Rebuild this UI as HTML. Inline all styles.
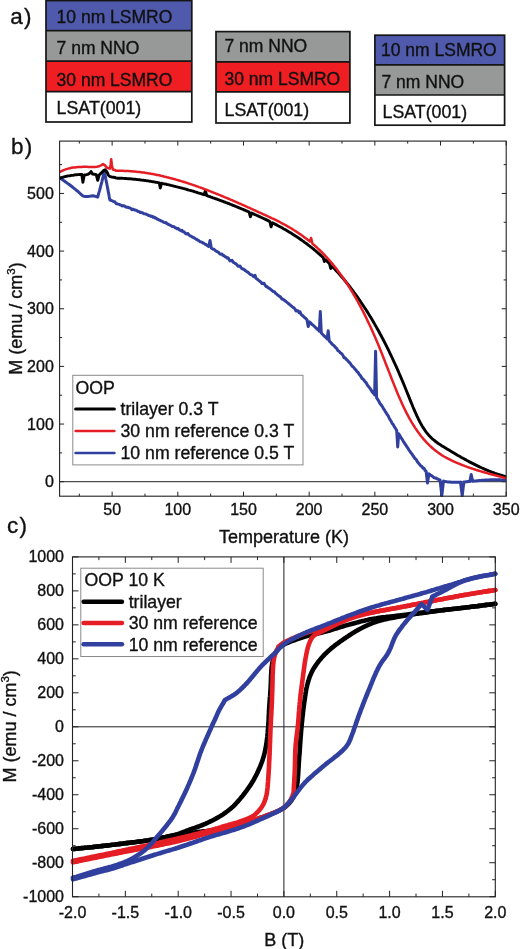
<!DOCTYPE html>
<html><head><meta charset="utf-8"><title>Figure</title>
<style>
html,body{margin:0;padding:0;background:#fff;}
body{width:520px;height:949px;overflow:hidden;}
svg{display:block;font-family:"Liberation Sans", Arial, Helvetica, sans-serif;}
</style></head>
<body>
<svg width="520" height="949" viewBox="0 0 520 949">
<rect width="520" height="949" fill="#fff"/>
<text x="10.3" y="23.6" font-size="22.5" fill="#111" stroke="#111" stroke-width="0.35">a<tspan dx="1.2">)</tspan></text>
<rect x="46" y="0.6" width="145.8" height="30.1" fill="#505aac"/>
<rect x="46" y="30.7" width="145.8" height="30.5" fill="#979998"/>
<rect x="46" y="61.2" width="145.8" height="30.5" fill="#ef1e22"/>
<rect x="46" y="91.7" width="145.8" height="30.3" fill="#fff"/>
<line x1="46" y1="30.7" x2="191.8" y2="30.7" stroke="#151515" stroke-width="1.7"/>
<line x1="46" y1="61.2" x2="191.8" y2="61.2" stroke="#151515" stroke-width="1.7"/>
<line x1="46" y1="91.7" x2="191.8" y2="91.7" stroke="#151515" stroke-width="1.7"/>
<rect x="46" y="0.6" width="145.8" height="121.4" fill="none" stroke="#151515" stroke-width="1.7"/>
<text x="56.6" y="23.1" font-size="17.5" fill="#111" stroke="#111" stroke-width="0.35">10 nm LSMRO</text>
<text x="56.6" y="54.4" font-size="17.5" fill="#111" stroke="#111" stroke-width="0.35">7 nm NNO</text>
<text x="56.6" y="85.8" font-size="17.5" fill="#111" stroke="#111" stroke-width="0.35">30 nm LSMRO</text>
<text x="56.6" y="114.2" font-size="17.8" fill="#111" stroke="#111" stroke-width="0.35">LSAT(001)</text>
<rect x="216" y="31.6" width="133.9" height="30.3" fill="#979998"/>
<rect x="216" y="61.9" width="133.9" height="29.9" fill="#ef1e22"/>
<rect x="216" y="91.8" width="133.9" height="31.2" fill="#fff"/>
<line x1="216" y1="61.9" x2="349.9" y2="61.9" stroke="#151515" stroke-width="1.7"/>
<line x1="216" y1="91.8" x2="349.9" y2="91.8" stroke="#151515" stroke-width="1.7"/>
<rect x="216" y="31.6" width="133.9" height="91.4" fill="none" stroke="#151515" stroke-width="1.7"/>
<text x="224.5" y="52.3" font-size="17.5" fill="#111" stroke="#111" stroke-width="0.35">7 nm NNO</text>
<text x="224.5" y="85.1" font-size="17.5" fill="#111" stroke="#111" stroke-width="0.35">30 nm LSMRO</text>
<text x="224.5" y="116.2" font-size="17.8" fill="#111" stroke="#111" stroke-width="0.35">LSAT(001)</text>
<rect x="374.9" y="35.2" width="129.7" height="29.6" fill="#505aac"/>
<rect x="374.9" y="64.8" width="129.7" height="30.2" fill="#979998"/>
<rect x="374.9" y="95" width="129.7" height="30.2" fill="#fff"/>
<line x1="374.9" y1="64.8" x2="504.6" y2="64.8" stroke="#151515" stroke-width="1.7"/>
<line x1="374.9" y1="95" x2="504.6" y2="95" stroke="#151515" stroke-width="1.7"/>
<rect x="374.9" y="35.2" width="129.7" height="90" fill="none" stroke="#151515" stroke-width="1.7"/>
<text x="381" y="55.5" font-size="17.5" fill="#111" stroke="#111" stroke-width="0.35">10 nm LSMRO</text>
<text x="381.5" y="88.1" font-size="17.5" fill="#111" stroke="#111" stroke-width="0.35">7 nm NNO</text>
<text x="382.5" y="117.5" font-size="17.8" fill="#111" stroke="#111" stroke-width="0.35">LSAT(001)</text>
<text x="11" y="153.8" font-size="22.5" fill="#111" stroke="#111" stroke-width="0.35">b<tspan dx="1.2">)</tspan></text>
<line x1="79.3" y1="496.2" x2="79.3" y2="493.7" stroke="#222" stroke-width="1"/>
<line x1="79.3" y1="141.1" x2="79.3" y2="143.6" stroke="#222" stroke-width="1"/>
<line x1="112.14" y1="496.2" x2="112.14" y2="491.7" stroke="#222" stroke-width="1"/>
<line x1="112.14" y1="141.1" x2="112.14" y2="145.6" stroke="#222" stroke-width="1"/>
<text x="112.14" y="515" font-size="16" text-anchor="middle" fill="#111" stroke="#111" stroke-width="0.35">50</text>
<line x1="144.98" y1="496.2" x2="144.98" y2="493.7" stroke="#222" stroke-width="1"/>
<line x1="144.98" y1="141.1" x2="144.98" y2="143.6" stroke="#222" stroke-width="1"/>
<line x1="177.82" y1="496.2" x2="177.82" y2="491.7" stroke="#222" stroke-width="1"/>
<line x1="177.82" y1="141.1" x2="177.82" y2="145.6" stroke="#222" stroke-width="1"/>
<text x="177.82" y="515" font-size="16" text-anchor="middle" fill="#111" stroke="#111" stroke-width="0.35">100</text>
<line x1="210.66" y1="496.2" x2="210.66" y2="493.7" stroke="#222" stroke-width="1"/>
<line x1="210.66" y1="141.1" x2="210.66" y2="143.6" stroke="#222" stroke-width="1"/>
<line x1="243.49" y1="496.2" x2="243.49" y2="491.7" stroke="#222" stroke-width="1"/>
<line x1="243.49" y1="141.1" x2="243.49" y2="145.6" stroke="#222" stroke-width="1"/>
<text x="243.49" y="515" font-size="16" text-anchor="middle" fill="#111" stroke="#111" stroke-width="0.35">150</text>
<line x1="276.33" y1="496.2" x2="276.33" y2="493.7" stroke="#222" stroke-width="1"/>
<line x1="276.33" y1="141.1" x2="276.33" y2="143.6" stroke="#222" stroke-width="1"/>
<line x1="309.17" y1="496.2" x2="309.17" y2="491.7" stroke="#222" stroke-width="1"/>
<line x1="309.17" y1="141.1" x2="309.17" y2="145.6" stroke="#222" stroke-width="1"/>
<text x="309.17" y="515" font-size="16" text-anchor="middle" fill="#111" stroke="#111" stroke-width="0.35">200</text>
<line x1="342.01" y1="496.2" x2="342.01" y2="493.7" stroke="#222" stroke-width="1"/>
<line x1="342.01" y1="141.1" x2="342.01" y2="143.6" stroke="#222" stroke-width="1"/>
<line x1="374.85" y1="496.2" x2="374.85" y2="491.7" stroke="#222" stroke-width="1"/>
<line x1="374.85" y1="141.1" x2="374.85" y2="145.6" stroke="#222" stroke-width="1"/>
<text x="374.85" y="515" font-size="16" text-anchor="middle" fill="#111" stroke="#111" stroke-width="0.35">250</text>
<line x1="407.69" y1="496.2" x2="407.69" y2="493.7" stroke="#222" stroke-width="1"/>
<line x1="407.69" y1="141.1" x2="407.69" y2="143.6" stroke="#222" stroke-width="1"/>
<line x1="440.52" y1="496.2" x2="440.52" y2="491.7" stroke="#222" stroke-width="1"/>
<line x1="440.52" y1="141.1" x2="440.52" y2="145.6" stroke="#222" stroke-width="1"/>
<text x="440.52" y="515" font-size="16" text-anchor="middle" fill="#111" stroke="#111" stroke-width="0.35">300</text>
<line x1="473.36" y1="496.2" x2="473.36" y2="493.7" stroke="#222" stroke-width="1"/>
<line x1="473.36" y1="141.1" x2="473.36" y2="143.6" stroke="#222" stroke-width="1"/>
<line x1="506.2" y1="496.2" x2="506.2" y2="491.7" stroke="#222" stroke-width="1"/>
<line x1="506.2" y1="141.1" x2="506.2" y2="145.6" stroke="#222" stroke-width="1"/>
<text x="506.2" y="515" font-size="16" text-anchor="middle" fill="#111" stroke="#111" stroke-width="0.35">350</text>
<line x1="59.6" y1="481.7" x2="64.1" y2="481.7" stroke="#222" stroke-width="1"/>
<line x1="506.2" y1="481.7" x2="501.7" y2="481.7" stroke="#222" stroke-width="1"/>
<text x="53.8" y="487.4" font-size="16" text-anchor="end" fill="#111" stroke="#111" stroke-width="0.35">0</text>
<line x1="59.6" y1="452.88" x2="62.1" y2="452.88" stroke="#222" stroke-width="1"/>
<line x1="506.2" y1="452.88" x2="503.7" y2="452.88" stroke="#222" stroke-width="1"/>
<line x1="59.6" y1="424.05" x2="64.1" y2="424.05" stroke="#222" stroke-width="1"/>
<line x1="506.2" y1="424.05" x2="501.7" y2="424.05" stroke="#222" stroke-width="1"/>
<text x="53.8" y="429.75" font-size="16" text-anchor="end" fill="#111" stroke="#111" stroke-width="0.35">100</text>
<line x1="59.6" y1="395.22" x2="62.1" y2="395.22" stroke="#222" stroke-width="1"/>
<line x1="506.2" y1="395.22" x2="503.7" y2="395.22" stroke="#222" stroke-width="1"/>
<line x1="59.6" y1="366.4" x2="64.1" y2="366.4" stroke="#222" stroke-width="1"/>
<line x1="506.2" y1="366.4" x2="501.7" y2="366.4" stroke="#222" stroke-width="1"/>
<text x="53.8" y="372.1" font-size="16" text-anchor="end" fill="#111" stroke="#111" stroke-width="0.35">200</text>
<line x1="59.6" y1="337.57" x2="62.1" y2="337.57" stroke="#222" stroke-width="1"/>
<line x1="506.2" y1="337.57" x2="503.7" y2="337.57" stroke="#222" stroke-width="1"/>
<line x1="59.6" y1="308.75" x2="64.1" y2="308.75" stroke="#222" stroke-width="1"/>
<line x1="506.2" y1="308.75" x2="501.7" y2="308.75" stroke="#222" stroke-width="1"/>
<text x="53.8" y="314.45" font-size="16" text-anchor="end" fill="#111" stroke="#111" stroke-width="0.35">300</text>
<line x1="59.6" y1="279.92" x2="62.1" y2="279.92" stroke="#222" stroke-width="1"/>
<line x1="506.2" y1="279.92" x2="503.7" y2="279.92" stroke="#222" stroke-width="1"/>
<line x1="59.6" y1="251.1" x2="64.1" y2="251.1" stroke="#222" stroke-width="1"/>
<line x1="506.2" y1="251.1" x2="501.7" y2="251.1" stroke="#222" stroke-width="1"/>
<text x="53.8" y="256.8" font-size="16" text-anchor="end" fill="#111" stroke="#111" stroke-width="0.35">400</text>
<line x1="59.6" y1="222.27" x2="62.1" y2="222.27" stroke="#222" stroke-width="1"/>
<line x1="506.2" y1="222.27" x2="503.7" y2="222.27" stroke="#222" stroke-width="1"/>
<line x1="59.6" y1="193.45" x2="64.1" y2="193.45" stroke="#222" stroke-width="1"/>
<line x1="506.2" y1="193.45" x2="501.7" y2="193.45" stroke="#222" stroke-width="1"/>
<text x="53.8" y="199.15" font-size="16" text-anchor="end" fill="#111" stroke="#111" stroke-width="0.35">500</text>
<line x1="59.6" y1="164.62" x2="62.1" y2="164.62" stroke="#222" stroke-width="1"/>
<line x1="506.2" y1="164.62" x2="503.7" y2="164.62" stroke="#222" stroke-width="1"/>
<line x1="59.6" y1="481.7" x2="506.2" y2="481.7" stroke="#222" stroke-width="1"/>
<text x="284" y="543" font-size="18" text-anchor="middle" fill="#111" stroke="#111" stroke-width="0.35">Temperature (K)</text>
<text transform="translate(22,318.5) rotate(-90)" font-size="18" text-anchor="middle" fill="#111" stroke="#111" stroke-width="0.35">M (emu / cm<tspan dy="-7" font-size="11.5">3</tspan><tspan dy="7">)</tspan></text>
<path d="M59.6 177.6L60.9 178.6L62.3 179.5L63.6 180.5L65.0 181.5L66.3 182.4L67.6 183.4L68.9 184.3L70.2 185.3L71.5 186.3L72.8 187.3L74.1 188.4L75.4 189.4L76.7 190.5L78.0 191.5L79.4 192.8L80.8 194.2L82.2 195.4L83.6 196.2L85.8 196.5L88.0 196.4L89.7 196.2L91.3 195.9L93.0 195.8L94.6 196.1L96.1 196.6L97.7 197.1L98.1 195.6L98.5 194.1L98.9 192.6L99.4 191.1L99.8 189.6L100.2 188.1L100.6 186.5L101.0 185.0L101.4 183.5L101.8 182.1L102.1 180.6L102.5 179.1L102.9 177.5L103.3 176.0L103.6 174.5L104.0 173.0L104.4 171.5L104.7 173.0L105.0 174.5L105.3 176.0L105.6 177.5L105.8 179.0L106.1 180.5L106.4 182.0L106.7 183.5L107.0 185.0L107.3 186.5L107.6 187.9L107.8 189.4L108.1 190.9L108.4 192.4L108.7 193.8L109.0 195.3L109.2 196.8L109.5 198.3L109.8 199.8L111.5 200.5L113.3 201.3L115.0 202.0L116.0 203.5L117.0 203.8L118.0 204.1L119.0 204.4L120.0 204.8L121.0 205.1L122.0 206.0L123.0 205.7L124.0 205.7L125.0 206.4L126.0 207.2L127.0 207.1L128.0 207.3L129.0 207.8L130.0 208.0L131.0 208.5L132.0 209.7L133.0 209.2L134.0 209.7L135.0 210.0L136.0 210.3L137.0 210.7L138.0 211.4L139.0 211.5L140.0 212.4L141.0 212.3L142.0 212.7L143.0 213.1L144.0 213.7L145.0 213.9L146.0 213.9L147.0 214.7L148.0 215.0L149.0 215.6L150.0 215.8L151.0 216.4L152.0 216.2L153.0 217.3L154.0 217.0L155.0 218.1L156.0 217.9L157.0 219.0L158.0 219.4L159.0 219.9L160.0 220.3L161.0 220.9L162.0 221.2L163.0 221.8L164.0 222.3L165.0 222.7L166.0 222.6L167.0 223.7L168.0 224.1L169.0 224.7L170.0 225.2L171.0 225.6L172.0 226.5L173.0 226.6L174.0 226.7L175.0 227.6L176.0 228.0L177.0 228.7L178.0 228.3L179.0 229.7L180.0 230.0L181.0 230.7L182.0 230.3L183.0 231.8L184.0 231.7L185.0 232.9L186.0 233.9L187.0 233.9L188.0 233.5L189.0 235.0L190.0 235.9L191.0 236.1L192.0 236.8L193.0 237.3L194.0 237.7L195.0 238.4L196.0 239.2L197.0 239.5L198.0 240.3L199.0 240.7L200.0 241.7L201.0 241.9L202.0 242.3L203.0 243.0L204.0 243.4L205.0 244.2L206.0 244.5L207.0 245.4L208.0 246.0L208.7 246.5L210.0 240.5L211.3 248.0L212.0 248.5L213.0 249.1L214.0 249.3L215.0 250.3L216.0 251.0L217.0 251.6L218.0 251.9L219.0 252.9L220.0 254.0L221.0 254.2L222.0 254.0L223.0 255.5L224.0 255.6L225.0 256.8L226.0 257.0L227.0 258.1L228.0 257.8L229.0 259.4L230.0 260.9L231.0 260.7L232.0 260.3L233.0 262.1L234.0 262.6L235.0 263.4L236.0 263.9L237.0 264.8L238.0 266.2L239.0 266.2L240.0 266.0L241.0 267.6L242.0 268.8L243.0 269.0L244.0 269.4L245.0 270.4L246.0 271.0L247.0 271.8L248.0 272.2L249.0 273.3L250.0 274.3L251.0 274.7L252.0 274.9L253.0 276.2L253.9 276.8L255.0 275.3L256.1 278.4L257.0 279.1L258.0 279.8L259.0 280.6L260.0 281.5L261.0 282.1L262.0 283.6L263.0 283.6L264.0 283.2L265.0 285.1L266.0 286.5L267.0 286.6L268.0 287.8L269.0 288.1L270.0 288.7L271.0 289.7L272.0 290.5L273.0 291.2L273.4 291.6L274.5 291.8L275.6 293.3L276.0 293.6L277.0 294.4L278.0 295.3L279.0 296.0L280.0 296.6L281.0 297.6L282.0 299.1L283.0 299.2L284.0 300.1L285.0 300.8L286.0 301.5L287.0 302.4L288.0 303.2L289.0 304.1L290.0 304.8L291.0 305.7L292.0 306.5L293.0 307.4L294.0 307.9L295.0 309.1L296.0 310.9L297.0 310.8L298.0 310.8L299.0 312.6L300.0 311.8L301.0 314.3L302.0 315.1L303.0 316.1L304.0 316.9L305.0 317.8L306.0 318.7L306.9 319.5L308.2 326.5L309.5 321.9L310.0 322.3L311.0 323.3L312.0 324.4L313.0 325.1L314.0 326.0L315.0 327.0L316.0 327.9L317.0 328.9L318.0 329.8L319.0 330.8L319.3 331.1L320.3 311.5L321.3 333.0L322.0 333.7L323.0 334.7L324.0 335.8L325.0 336.7L326.0 337.6L327.0 338.7L327.2 338.9L328.2 330.8L329.2 340.9L330.0 341.7L331.0 342.7L332.0 344.2L333.0 344.8L334.0 345.6L335.0 346.9L336.0 347.8L337.0 349.0L338.0 350.9L339.0 351.1L340.0 352.5L341.0 353.3L342.0 354.0L343.0 355.5L344.0 357.7L345.0 357.7L346.0 359.2L347.0 360.0L348.0 360.9L349.0 362.3L350.0 362.9L351.0 364.6L352.0 365.9L353.0 366.9L354.0 367.7L355.0 369.3L356.0 370.0L357.0 371.7L358.0 372.3L359.0 374.1L360.0 375.1L361.0 376.6L362.0 378.4L363.0 379.1L364.0 380.2L365.0 381.7L366.0 382.4L367.0 384.4L368.0 386.0L369.0 387.0L370.0 388.4L371.0 389.8L372.0 391.6L373.0 392.6L374.0 394.0L374.6 394.9L375.6 351.2L376.6 397.8L377.0 398.4L378.0 399.9L379.0 401.5L380.0 403.6L381.0 404.6L382.0 406.1L383.0 407.8L384.0 409.3L385.0 411.0L386.0 412.6L387.0 414.3L388.0 415.4L389.0 417.6L390.0 419.6L391.0 421.0L392.0 423.2L393.0 424.3L394.0 426.1L395.0 427.7L396.0 429.3L396.7 430.5L397.7 446.9L398.7 433.8L399.0 434.3L400.0 435.9L401.0 437.6L402.0 439.1L403.0 440.8L404.0 442.3L405.0 444.0L406.0 445.2L407.0 447.1L408.0 448.2L409.0 450.1L410.0 451.4L411.0 453.0L412.0 454.1L413.0 455.8L414.0 457.0L415.0 458.6L416.0 459.2L417.0 461.2L418.0 462.6L419.0 463.7L420.0 464.9L421.0 466.0L422.0 466.6L423.0 468.2L424.0 468.2L425.0 470.3L426.0 471.2L426.1 471.3L427.5 483.0L428.9 473.8L429.0 473.8L430.0 474.6L431.0 475.4L432.0 476.0L433.0 476.7L434.0 477.8L435.0 477.9L436.0 478.0L437.0 478.8L438.0 479.1L439.0 479.7L440.0 480.1L440.1 480.1L441.8 495.5L443.5 481.1L444.0 481.2L445.0 481.4L446.0 481.6L447.0 481.8L448.0 481.9L449.0 482.0L450.0 482.1L451.0 482.2L452.0 482.2L453.0 482.3L454.0 482.3L455.0 482.3L456.0 482.3L457.0 482.3L458.0 482.3L459.0 482.2L460.0 482.2L460.5 482.1L462.2 495.5L463.9 481.9L464.0 481.9L465.0 481.9L466.0 481.8L467.0 481.7L468.0 481.6L469.0 481.5L469.8 481.5L471.2 474.5L472.6 481.2L473.0 481.2L474.0 481.1L475.0 481.0L476.0 480.9L477.0 480.8L478.0 480.7L479.0 480.6L480.0 480.5L481.0 480.4L482.0 480.3L483.0 480.3L484.0 480.2L485.0 480.1L486.0 480.1L487.0 480.0L488.0 479.9L489.0 479.9L490.0 479.8L491.0 479.8L492.0 479.8L493.0 479.7L494.0 479.7L495.0 479.7L496.0 479.7L497.0 479.7L498.0 479.8L499.0 479.8L500.0 479.8L501.0 479.9L502.0 479.9L503.0 480.0L504.0 480.1L505.0 480.2L506.0 480.3" fill="none" stroke="#31409f" stroke-width="3.0" stroke-linejoin="round"/>
<path d="M59.6 178.3L61.4 177.7L63.2 177.1L65.0 176.6L66.6 176.2L68.2 175.9L69.9 175.7L71.5 175.4L73.2 175.2L74.9 174.9L76.5 174.7L78.0 174.6L80.0 174.5L81.8 174.5L82.0 176.1L82.2 177.6L82.5 179.2L82.7 180.7L82.9 182.3L83.2 180.5L83.6 178.7L83.9 176.8L84.2 175.0L86.2 174.7L88.0 174.3L90.0 173.0L91.0 171.5L92.5 174.0L94.3 174.3L96.2 174.6L96.7 176.5L97.2 178.4L97.7 180.3L98.2 178.5L98.7 176.8L99.2 175.0L100.6 173.6L102.0 172.2L103.6 170.6L105.1 169.8L107.0 172.0L107.6 173.3L108.2 174.8L109.1 176.0L110.3 176.6L111.8 177.0L113.4 177.2L115.0 177.5L116.0 178.1L117.0 178.1L118.0 178.2L119.0 178.2L120.0 178.2L121.0 178.3L122.0 178.3L123.0 178.4L124.0 178.4L125.0 178.5L126.0 178.5L127.0 178.6L128.0 178.7L129.0 178.8L130.0 178.8L131.0 178.9L132.0 179.0L133.0 179.1L134.0 179.2L135.0 179.3L136.0 179.4L137.0 179.5L138.0 179.6L139.0 179.7L140.0 179.8L141.0 180.0L142.0 180.1L143.0 180.2L144.0 180.4L145.0 180.5L146.0 180.6L147.0 180.8L148.0 180.9L149.0 181.1L150.0 181.2L151.0 181.4L152.0 181.6L153.0 181.7L154.0 181.9L155.0 182.1L156.0 182.3L157.0 182.4L158.0 182.6L159.0 182.8L159.2 182.9L160.3 188.0L161.4 183.3L162.0 183.4L163.0 183.6L164.0 183.8L165.0 184.0L166.0 184.2L167.0 184.5L168.0 184.7L169.0 184.9L170.0 185.1L171.0 185.4L172.0 185.6L173.0 185.8L174.0 186.1L175.0 186.3L176.0 186.6L177.0 186.8L178.0 187.1L179.0 187.3L180.0 187.6L181.0 187.8L182.0 188.1L183.0 188.4L184.0 188.6L185.0 188.9L186.0 189.2L187.0 189.5L188.0 189.8L189.0 190.1L190.0 190.3L191.0 190.6L192.0 190.9L193.0 191.2L194.0 191.5L195.0 191.8L196.0 192.1L197.0 192.4L198.0 192.8L199.0 193.1L200.0 193.4L201.0 193.7L202.0 194.0L203.0 194.4L204.0 194.7L204.1 194.7L205.4 190.5L206.7 195.6L207.0 195.7L208.0 196.0L209.0 196.4L210.0 196.7L211.0 197.1L212.0 197.4L213.0 197.8L214.0 198.1L215.0 198.5L216.0 198.8L217.0 199.2L218.0 199.6L219.0 199.9L220.0 200.3L221.0 200.7L222.0 201.0L223.0 201.4L224.0 201.8L225.0 202.2L226.0 202.6L227.0 202.9L228.0 203.3L229.0 203.7L230.0 204.1L231.0 204.5L232.0 204.9L233.0 205.3L234.0 205.7L235.0 206.1L236.0 206.5L237.0 206.9L238.0 207.3L239.0 207.7L240.0 208.2L241.0 208.6L242.0 209.0L243.0 209.4L244.0 209.8L245.0 210.2L246.0 210.7L247.0 211.1L248.0 211.5L249.0 212.0L249.1 212.0L250.4 216.8L251.7 213.1L252.0 213.2L253.0 213.7L254.0 214.1L255.0 214.6L256.0 215.0L257.0 215.5L258.0 215.9L259.0 216.4L260.0 216.8L261.0 217.3L262.0 217.7L263.0 218.2L264.0 218.7L265.0 219.1L266.0 219.6L267.0 220.1L268.0 220.6L269.0 221.1L269.8 221.5L271.1 226.8L272.4 222.8L273.0 223.1L274.0 223.6L275.0 224.1L276.0 224.6L277.0 225.1L278.0 225.7L279.0 226.2L280.0 226.7L281.0 227.3L282.0 227.8L283.0 228.4L284.0 229.0L285.0 229.5L286.0 230.1L287.0 230.7L288.0 231.3L289.0 231.9L290.0 232.5L291.0 233.1L292.0 233.7L293.0 234.4L294.0 235.0L295.0 235.7L296.0 236.3L297.0 237.0L298.0 237.6L299.0 238.3L300.0 239.0L301.0 239.7L302.0 240.4L303.0 241.1L304.0 241.8L305.0 242.6L306.0 243.3L307.0 244.0L308.0 244.8L309.0 245.6L310.0 246.3L311.0 247.1L312.0 247.9L313.0 248.7L314.0 249.5L315.0 250.4L316.0 251.2L317.0 252.1L318.0 252.9L319.0 253.8L320.0 254.7L321.0 255.6L322.0 256.5L323.0 257.4L323.2 257.6L324.4 261.5L325.6 259.8L326.0 260.2L327.0 261.2L328.0 262.1L329.0 263.1L329.5 263.6L330.7 268.5L331.9 266.1L332.0 266.2L333.0 267.2L334.0 268.3L335.0 269.3L336.0 270.4L337.0 271.5L338.0 272.6L339.0 273.7L340.0 274.9L341.0 276.0L342.0 277.2L343.0 278.3L344.0 279.5L345.0 280.7L346.0 282.0L347.0 283.2L348.0 284.4L349.0 285.7L350.0 287.0L351.0 288.3L352.0 289.6L353.0 290.9L354.0 292.3L355.0 293.6L356.0 295.0L357.0 296.4L358.0 297.8L359.0 299.3L360.0 300.7L361.0 302.2L362.0 303.7L363.0 305.2L364.0 306.7L365.0 308.2L366.0 309.8L367.0 311.4L368.0 312.9L369.0 314.6L370.0 316.2L371.0 317.8L372.0 319.5L373.0 321.2L374.0 322.9L375.0 324.7L376.0 326.4L377.0 328.2L378.0 330.0L379.0 331.8L380.0 333.7L381.0 335.5L382.0 337.4L383.0 339.3L384.0 341.2L385.0 343.2L386.0 345.2L387.0 347.2L388.0 349.2L389.0 351.2L390.0 353.3L391.0 355.4L392.0 357.5L393.0 359.6L394.0 361.8L395.0 364.0L396.0 366.2L397.0 368.4L398.0 370.7L399.0 373.0L400.0 375.3L401.0 377.6L402.0 380.0L403.0 382.4L404.0 384.8L405.0 387.2L406.0 389.7L407.0 392.2L408.0 394.6L409.0 397.1L410.0 399.6L411.0 402.1L412.0 404.5L413.0 407.0L414.0 409.3L415.0 411.6L416.0 413.9L417.0 416.1L418.0 418.2L419.0 420.3L420.0 422.2L421.0 424.0L422.0 425.8L423.0 427.4L424.0 428.9L425.0 430.4L426.0 431.8L427.0 433.1L428.0 434.3L429.0 435.4L430.0 436.5L431.0 437.5L432.0 438.5L433.0 439.4L434.0 440.2L435.0 441.0L436.0 441.8L437.0 442.5L438.0 443.3L439.0 443.9L440.0 444.6L441.0 445.2L442.0 445.9L443.0 446.5L444.0 447.1L445.0 447.7L446.0 448.3L447.0 448.9L448.0 449.5L449.0 450.1L450.0 450.7L451.0 451.3L452.0 451.9L453.0 452.5L454.0 453.1L455.0 453.7L456.0 454.3L457.0 454.9L458.0 455.5L459.0 456.0L460.0 456.6L461.0 457.2L462.0 457.7L463.0 458.3L464.0 458.8L465.0 459.4L466.0 459.9L467.0 460.5L468.0 461.0L469.0 461.6L470.0 462.1L471.0 462.6L472.0 463.1L473.0 463.6L474.0 464.1L475.0 464.6L476.0 465.1L477.0 465.6L478.0 466.1L479.0 466.6L480.0 467.1L481.0 467.5L482.0 468.0L483.0 468.4L484.0 468.9L485.0 469.3L486.0 469.7L487.0 470.2L488.0 470.6L489.0 471.0L490.0 471.4L491.0 471.8L492.0 472.2L493.0 472.5L494.0 472.9L495.0 473.3L496.0 473.6L497.0 474.0L498.0 474.3L499.0 474.6L500.0 474.9L501.0 475.2L502.0 475.5L503.0 475.8L504.0 476.1L505.0 476.4L506.0 476.6" fill="none" stroke="#000" stroke-width="2.9" stroke-linejoin="round"/>
<path d="M59.6 172.0L61.4 171.2L63.2 170.3L65.0 169.6L66.6 169.1L68.2 168.6L69.9 168.2L71.5 167.8L73.1 167.5L74.7 167.4L76.4 167.2L78.0 167.1L79.7 167.0L81.5 166.9L83.2 166.8L85.0 166.8L86.8 166.8L88.5 166.9L90.3 166.9L92.0 166.9L93.6 166.9L95.2 166.9L96.7 166.8L98.0 166.6L99.6 166.0L101.0 165.3L103.1 164.1L105.0 165.4L106.0 166.6L107.1 167.8L109.8 168.6L110.2 166.8L110.6 165.0L110.8 163.1L111.0 161.1L111.2 159.2L111.4 161.1L111.7 163.1L111.9 165.0L112.2 166.5L112.5 168.0L112.8 169.5L115.0 170.0L116.0 170.8L117.0 170.8L118.0 170.8L119.0 170.8L120.0 170.8L121.0 170.8L122.0 170.8L123.0 170.8L124.0 170.9L125.0 170.9L126.0 170.9L127.0 171.0L128.0 171.0L129.0 171.1L130.0 171.2L131.0 171.2L132.0 171.3L133.0 171.4L134.0 171.5L135.0 171.6L136.0 171.7L137.0 171.8L138.0 171.9L139.0 172.0L140.0 172.1L141.0 172.2L142.0 172.4L143.0 172.5L144.0 172.6L145.0 172.8L146.0 172.9L147.0 173.1L148.0 173.2L149.0 173.4L150.0 173.6L151.0 173.8L152.0 173.9L153.0 174.1L154.0 174.3L155.0 174.5L156.0 174.7L157.0 174.9L158.0 175.1L159.0 175.3L160.0 175.5L161.0 175.8L162.0 176.0L163.0 176.2L164.0 176.5L165.0 176.7L166.0 176.9L167.0 177.2L168.0 177.4L169.0 177.7L170.0 178.0L171.0 178.2L172.0 178.5L173.0 178.8L174.0 179.0L175.0 179.3L176.0 179.6L177.0 179.9L178.0 180.2L179.0 180.5L180.0 180.8L181.0 181.1L182.0 181.4L183.0 181.7L184.0 182.0L185.0 182.3L186.0 182.6L187.0 182.9L188.0 183.3L189.0 183.6L190.0 183.9L191.0 184.3L192.0 184.6L193.0 184.9L194.0 185.3L195.0 185.6L196.0 186.0L197.0 186.3L198.0 186.7L199.0 187.1L200.0 187.4L201.0 187.8L202.0 188.1L203.0 188.5L204.0 188.9L205.0 189.3L206.0 189.6L207.0 190.0L208.0 190.4L209.0 190.8L210.0 191.2L211.0 191.6L212.0 192.0L213.0 192.4L214.0 192.8L215.0 193.2L216.0 193.6L217.0 194.0L218.0 194.4L219.0 194.8L220.0 195.2L221.0 195.6L222.0 196.0L223.0 196.4L224.0 196.8L225.0 197.3L226.0 197.7L227.0 198.1L228.0 198.5L229.0 198.9L230.0 199.4L231.0 199.8L232.0 200.2L233.0 200.7L234.0 201.1L235.0 201.5L236.0 202.0L237.0 202.4L238.0 202.8L239.0 203.3L240.0 203.7L241.0 204.2L242.0 204.6L243.0 205.0L244.0 205.5L245.0 205.9L246.0 206.4L247.0 206.8L248.0 207.3L249.0 207.7L250.0 208.2L251.0 208.6L252.0 209.1L253.0 209.5L254.0 210.0L255.0 210.4L256.0 210.9L257.0 211.3L258.0 211.8L259.0 212.3L260.0 212.7L261.0 213.2L262.0 213.6L263.0 214.1L264.0 214.5L265.0 215.0L266.0 215.5L267.0 215.9L268.0 216.4L269.0 216.8L270.0 217.3L271.0 217.8L272.0 218.3L273.0 218.7L274.0 219.2L275.0 219.7L276.0 220.2L277.0 220.7L278.0 221.2L279.0 221.7L280.0 222.2L281.0 222.8L282.0 223.3L283.0 223.8L284.0 224.3L285.0 224.9L286.0 225.4L287.0 226.0L288.0 226.6L289.0 227.1L290.0 227.7L291.0 228.3L292.0 228.9L293.0 229.5L294.0 230.2L295.0 230.8L296.0 231.4L297.0 232.1L298.0 232.7L299.0 233.4L300.0 234.1L301.0 234.8L302.0 235.5L303.0 236.2L304.0 236.9L305.0 237.7L306.0 238.4L307.0 239.2L308.0 240.0L309.0 240.8L309.8 241.4L311.1 238.0L312.4 243.6L313.0 244.1L314.0 244.9L315.0 245.8L316.0 246.7L317.0 247.6L318.0 248.6L319.0 249.5L320.0 250.5L321.0 251.5L322.0 252.4L323.0 253.5L324.0 254.5L325.0 255.5L326.0 256.6L327.0 257.7L328.0 258.8L329.0 259.9L330.0 261.1L331.0 262.2L332.0 263.4L333.0 264.6L334.0 265.8L335.0 267.1L336.0 268.3L337.0 269.6L338.0 270.9L339.0 272.3L340.0 273.6L341.0 275.0L342.0 276.4L343.0 277.8L344.0 279.2L345.0 280.7L346.0 282.2L347.0 283.7L348.0 285.3L349.0 286.8L350.0 288.4L351.0 290.0L352.0 291.7L353.0 293.3L354.0 295.0L355.0 296.7L356.0 298.5L357.0 300.2L358.0 302.0L359.0 303.9L360.0 305.7L361.0 307.6L362.0 309.5L363.0 311.4L364.0 313.4L365.0 315.4L366.0 317.4L367.0 319.5L368.0 321.6L369.0 323.7L370.0 325.8L371.0 328.0L372.0 330.2L373.0 332.4L374.0 334.7L375.0 337.0L376.0 339.3L377.0 341.7L378.0 344.1L379.0 346.5L380.0 349.0L381.0 351.4L382.0 353.9L383.0 356.5L384.0 359.0L385.0 361.6L386.0 364.2L387.0 366.7L388.0 369.3L389.0 371.9L390.0 374.4L391.0 377.0L392.0 379.6L393.0 382.1L394.0 384.6L395.0 387.1L396.0 389.5L397.0 392.0L398.0 394.4L399.0 396.7L400.0 399.0L401.0 401.3L402.0 403.5L403.0 405.7L404.0 407.8L405.0 409.9L406.0 411.9L407.0 413.8L408.0 415.7L409.0 417.6L410.0 419.4L411.0 421.1L412.0 422.8L413.0 424.4L414.0 426.0L415.0 427.6L416.0 429.1L417.0 430.5L418.0 432.0L419.0 433.3L420.0 434.7L421.0 436.0L422.0 437.2L423.0 438.4L424.0 439.6L425.0 440.7L426.0 441.8L427.0 442.9L428.0 443.9L429.0 444.9L430.0 445.9L431.0 446.8L432.0 447.7L433.0 448.6L434.0 449.4L435.0 450.2L436.0 451.0L437.0 451.8L438.0 452.5L439.0 453.2L440.0 453.9L441.0 454.6L442.0 455.2L443.0 455.9L444.0 456.5L445.0 457.0L446.0 457.6L447.0 458.2L448.0 458.7L449.0 459.2L450.0 459.7L451.0 460.2L452.0 460.7L453.0 461.1L454.0 461.6L455.0 462.0L456.0 462.5L457.0 462.9L458.0 463.3L459.0 463.7L460.0 464.1L461.0 464.5L462.0 464.9L463.0 465.3L464.0 465.7L465.0 466.1L466.0 466.4L467.0 466.8L468.0 467.2L469.0 467.5L470.0 467.9L471.0 468.2L472.0 468.5L473.0 468.9L474.0 469.2L475.0 469.5L476.0 469.9L477.0 470.2L478.0 470.5L479.0 470.8L480.0 471.1L481.0 471.4L482.0 471.7L483.0 472.0L484.0 472.3L485.0 472.6L486.0 472.8L487.0 473.1L488.0 473.4L489.0 473.7L490.0 474.0L491.0 474.2L492.0 474.5L493.0 474.8L494.0 475.0L495.0 475.3L496.0 475.6L497.0 475.8L498.0 476.1L499.0 476.4L500.0 476.6L501.0 476.9L502.0 477.2L503.0 477.4L504.0 477.7L505.0 477.9L506.0 478.2" fill="none" stroke="#e41e24" stroke-width="2.5" stroke-linejoin="round"/>
<rect x="59.6" y="141.1" width="446.6" height="355.1" fill="none" stroke="#222" stroke-width="1.1"/>
<rect x="72.8" y="375.3" width="230.2" height="89.6" fill="#fff" stroke="#8a8a8a" stroke-width="1"/>
<text x="75.5" y="393.8" font-size="17.7" fill="#111" stroke="#111" stroke-width="0.35">OOP</text>
<line x1="75.6" y1="409.1" x2="114.4" y2="409.1" stroke="#000" stroke-width="3.0" stroke-linecap="round"/>
<text x="120.5" y="415.3" font-size="17.7" fill="#111" stroke="#111" stroke-width="0.35">trilayer 0.3 T</text>
<line x1="75.6" y1="431" x2="114.4" y2="431" stroke="#e41e24" stroke-width="2.5" stroke-linecap="round"/>
<text x="120.5" y="437.2" font-size="17.7" fill="#111" stroke="#111" stroke-width="0.35">30 nm reference 0.3 T</text>
<line x1="75.6" y1="453" x2="114.4" y2="453" stroke="#31409f" stroke-width="2.7" stroke-linecap="round"/>
<text x="120.5" y="459.2" font-size="17.7" fill="#111" stroke="#111" stroke-width="0.35">10 nm reference 0.5 T</text>
<text x="7" y="533.4" font-size="22.5" fill="#111" stroke="#111" stroke-width="0.35">c<tspan dx="1.2">)</tspan></text>
<line x1="72.5" y1="896.8" x2="72.5" y2="890.8" stroke="#222" stroke-width="1"/>
<line x1="72.5" y1="556.9" x2="72.5" y2="562.9" stroke="#222" stroke-width="1"/>
<text x="72.5" y="917.5" font-size="16" text-anchor="middle" fill="#111" stroke="#111" stroke-width="0.35">-2.0</text>
<line x1="98.92" y1="896.8" x2="98.92" y2="893.6" stroke="#222" stroke-width="1"/>
<line x1="98.92" y1="556.9" x2="98.92" y2="560.1" stroke="#222" stroke-width="1"/>
<line x1="125.35" y1="896.8" x2="125.35" y2="890.8" stroke="#222" stroke-width="1"/>
<line x1="125.35" y1="556.9" x2="125.35" y2="562.9" stroke="#222" stroke-width="1"/>
<text x="125.35" y="917.5" font-size="16" text-anchor="middle" fill="#111" stroke="#111" stroke-width="0.35">-1.5</text>
<line x1="151.77" y1="896.8" x2="151.77" y2="893.6" stroke="#222" stroke-width="1"/>
<line x1="151.77" y1="556.9" x2="151.77" y2="560.1" stroke="#222" stroke-width="1"/>
<line x1="178.2" y1="896.8" x2="178.2" y2="890.8" stroke="#222" stroke-width="1"/>
<line x1="178.2" y1="556.9" x2="178.2" y2="562.9" stroke="#222" stroke-width="1"/>
<text x="178.2" y="917.5" font-size="16" text-anchor="middle" fill="#111" stroke="#111" stroke-width="0.35">-1.0</text>
<line x1="204.62" y1="896.8" x2="204.62" y2="893.6" stroke="#222" stroke-width="1"/>
<line x1="204.62" y1="556.9" x2="204.62" y2="560.1" stroke="#222" stroke-width="1"/>
<line x1="231.05" y1="896.8" x2="231.05" y2="890.8" stroke="#222" stroke-width="1"/>
<line x1="231.05" y1="556.9" x2="231.05" y2="562.9" stroke="#222" stroke-width="1"/>
<text x="231.05" y="917.5" font-size="16" text-anchor="middle" fill="#111" stroke="#111" stroke-width="0.35">-0.5</text>
<line x1="257.47" y1="896.8" x2="257.47" y2="893.6" stroke="#222" stroke-width="1"/>
<line x1="257.47" y1="556.9" x2="257.47" y2="560.1" stroke="#222" stroke-width="1"/>
<line x1="283.9" y1="896.8" x2="283.9" y2="890.8" stroke="#222" stroke-width="1"/>
<line x1="283.9" y1="556.9" x2="283.9" y2="562.9" stroke="#222" stroke-width="1"/>
<text x="283.9" y="917.5" font-size="16" text-anchor="middle" fill="#111" stroke="#111" stroke-width="0.35">0.0</text>
<line x1="310.32" y1="896.8" x2="310.32" y2="893.6" stroke="#222" stroke-width="1"/>
<line x1="310.32" y1="556.9" x2="310.32" y2="560.1" stroke="#222" stroke-width="1"/>
<line x1="336.75" y1="896.8" x2="336.75" y2="890.8" stroke="#222" stroke-width="1"/>
<line x1="336.75" y1="556.9" x2="336.75" y2="562.9" stroke="#222" stroke-width="1"/>
<text x="336.75" y="917.5" font-size="16" text-anchor="middle" fill="#111" stroke="#111" stroke-width="0.35">0.5</text>
<line x1="363.17" y1="896.8" x2="363.17" y2="893.6" stroke="#222" stroke-width="1"/>
<line x1="363.17" y1="556.9" x2="363.17" y2="560.1" stroke="#222" stroke-width="1"/>
<line x1="389.6" y1="896.8" x2="389.6" y2="890.8" stroke="#222" stroke-width="1"/>
<line x1="389.6" y1="556.9" x2="389.6" y2="562.9" stroke="#222" stroke-width="1"/>
<text x="389.6" y="917.5" font-size="16" text-anchor="middle" fill="#111" stroke="#111" stroke-width="0.35">1.0</text>
<line x1="416.02" y1="896.8" x2="416.02" y2="893.6" stroke="#222" stroke-width="1"/>
<line x1="416.02" y1="556.9" x2="416.02" y2="560.1" stroke="#222" stroke-width="1"/>
<line x1="442.45" y1="896.8" x2="442.45" y2="890.8" stroke="#222" stroke-width="1"/>
<line x1="442.45" y1="556.9" x2="442.45" y2="562.9" stroke="#222" stroke-width="1"/>
<text x="442.45" y="917.5" font-size="16" text-anchor="middle" fill="#111" stroke="#111" stroke-width="0.35">1.5</text>
<line x1="468.88" y1="896.8" x2="468.88" y2="893.6" stroke="#222" stroke-width="1"/>
<line x1="468.88" y1="556.9" x2="468.88" y2="560.1" stroke="#222" stroke-width="1"/>
<line x1="495.3" y1="896.8" x2="495.3" y2="890.8" stroke="#222" stroke-width="1"/>
<line x1="495.3" y1="556.9" x2="495.3" y2="562.9" stroke="#222" stroke-width="1"/>
<text x="495.3" y="917.5" font-size="16" text-anchor="middle" fill="#111" stroke="#111" stroke-width="0.35">2.0</text>
<line x1="72.5" y1="896.7" x2="78.5" y2="896.7" stroke="#222" stroke-width="1"/>
<line x1="495.3" y1="896.7" x2="489.3" y2="896.7" stroke="#222" stroke-width="1"/>
<text x="64" y="901.5" font-size="16" text-anchor="end" fill="#111" stroke="#111" stroke-width="0.35">-1000</text>
<line x1="72.5" y1="879.71" x2="75.7" y2="879.71" stroke="#222" stroke-width="1"/>
<line x1="495.3" y1="879.71" x2="492.1" y2="879.71" stroke="#222" stroke-width="1"/>
<line x1="72.5" y1="862.72" x2="78.5" y2="862.72" stroke="#222" stroke-width="1"/>
<line x1="495.3" y1="862.72" x2="489.3" y2="862.72" stroke="#222" stroke-width="1"/>
<text x="64" y="867.52" font-size="16" text-anchor="end" fill="#111" stroke="#111" stroke-width="0.35">-800</text>
<line x1="72.5" y1="845.73" x2="75.7" y2="845.73" stroke="#222" stroke-width="1"/>
<line x1="495.3" y1="845.73" x2="492.1" y2="845.73" stroke="#222" stroke-width="1"/>
<line x1="72.5" y1="828.74" x2="78.5" y2="828.74" stroke="#222" stroke-width="1"/>
<line x1="495.3" y1="828.74" x2="489.3" y2="828.74" stroke="#222" stroke-width="1"/>
<text x="64" y="833.54" font-size="16" text-anchor="end" fill="#111" stroke="#111" stroke-width="0.35">-600</text>
<line x1="72.5" y1="811.75" x2="75.7" y2="811.75" stroke="#222" stroke-width="1"/>
<line x1="495.3" y1="811.75" x2="492.1" y2="811.75" stroke="#222" stroke-width="1"/>
<line x1="72.5" y1="794.76" x2="78.5" y2="794.76" stroke="#222" stroke-width="1"/>
<line x1="495.3" y1="794.76" x2="489.3" y2="794.76" stroke="#222" stroke-width="1"/>
<text x="64" y="799.56" font-size="16" text-anchor="end" fill="#111" stroke="#111" stroke-width="0.35">-400</text>
<line x1="72.5" y1="777.77" x2="75.7" y2="777.77" stroke="#222" stroke-width="1"/>
<line x1="495.3" y1="777.77" x2="492.1" y2="777.77" stroke="#222" stroke-width="1"/>
<line x1="72.5" y1="760.78" x2="78.5" y2="760.78" stroke="#222" stroke-width="1"/>
<line x1="495.3" y1="760.78" x2="489.3" y2="760.78" stroke="#222" stroke-width="1"/>
<text x="64" y="765.58" font-size="16" text-anchor="end" fill="#111" stroke="#111" stroke-width="0.35">-200</text>
<line x1="72.5" y1="743.79" x2="75.7" y2="743.79" stroke="#222" stroke-width="1"/>
<line x1="495.3" y1="743.79" x2="492.1" y2="743.79" stroke="#222" stroke-width="1"/>
<line x1="72.5" y1="726.8" x2="78.5" y2="726.8" stroke="#222" stroke-width="1"/>
<line x1="495.3" y1="726.8" x2="489.3" y2="726.8" stroke="#222" stroke-width="1"/>
<text x="64" y="731.6" font-size="16" text-anchor="end" fill="#111" stroke="#111" stroke-width="0.35">0</text>
<line x1="72.5" y1="709.81" x2="75.7" y2="709.81" stroke="#222" stroke-width="1"/>
<line x1="495.3" y1="709.81" x2="492.1" y2="709.81" stroke="#222" stroke-width="1"/>
<line x1="72.5" y1="692.82" x2="78.5" y2="692.82" stroke="#222" stroke-width="1"/>
<line x1="495.3" y1="692.82" x2="489.3" y2="692.82" stroke="#222" stroke-width="1"/>
<text x="64" y="697.62" font-size="16" text-anchor="end" fill="#111" stroke="#111" stroke-width="0.35">200</text>
<line x1="72.5" y1="675.83" x2="75.7" y2="675.83" stroke="#222" stroke-width="1"/>
<line x1="495.3" y1="675.83" x2="492.1" y2="675.83" stroke="#222" stroke-width="1"/>
<line x1="72.5" y1="658.84" x2="78.5" y2="658.84" stroke="#222" stroke-width="1"/>
<line x1="495.3" y1="658.84" x2="489.3" y2="658.84" stroke="#222" stroke-width="1"/>
<text x="64" y="663.64" font-size="16" text-anchor="end" fill="#111" stroke="#111" stroke-width="0.35">400</text>
<line x1="72.5" y1="641.85" x2="75.7" y2="641.85" stroke="#222" stroke-width="1"/>
<line x1="495.3" y1="641.85" x2="492.1" y2="641.85" stroke="#222" stroke-width="1"/>
<line x1="72.5" y1="624.86" x2="78.5" y2="624.86" stroke="#222" stroke-width="1"/>
<line x1="495.3" y1="624.86" x2="489.3" y2="624.86" stroke="#222" stroke-width="1"/>
<text x="64" y="629.66" font-size="16" text-anchor="end" fill="#111" stroke="#111" stroke-width="0.35">600</text>
<line x1="72.5" y1="607.87" x2="75.7" y2="607.87" stroke="#222" stroke-width="1"/>
<line x1="495.3" y1="607.87" x2="492.1" y2="607.87" stroke="#222" stroke-width="1"/>
<line x1="72.5" y1="590.88" x2="78.5" y2="590.88" stroke="#222" stroke-width="1"/>
<line x1="495.3" y1="590.88" x2="489.3" y2="590.88" stroke="#222" stroke-width="1"/>
<text x="64" y="595.68" font-size="16" text-anchor="end" fill="#111" stroke="#111" stroke-width="0.35">800</text>
<line x1="72.5" y1="573.89" x2="75.7" y2="573.89" stroke="#222" stroke-width="1"/>
<line x1="495.3" y1="573.89" x2="492.1" y2="573.89" stroke="#222" stroke-width="1"/>
<line x1="72.5" y1="556.9" x2="78.5" y2="556.9" stroke="#222" stroke-width="1"/>
<line x1="495.3" y1="556.9" x2="489.3" y2="556.9" stroke="#222" stroke-width="1"/>
<text x="64" y="561.7" font-size="16" text-anchor="end" fill="#111" stroke="#111" stroke-width="0.35">1000</text>
<line x1="72.5" y1="726.8" x2="495.3" y2="726.8" stroke="#222" stroke-width="1"/>
<line x1="283.9" y1="556.9" x2="283.9" y2="896.8" stroke="#222" stroke-width="1"/>
<text x="284.3" y="945.6" font-size="18" text-anchor="middle" fill="#111" stroke="#111" stroke-width="0.35">B (T)</text>
<text transform="translate(15.5,726.4) rotate(-90)" font-size="18" text-anchor="middle" fill="#111" stroke="#111" stroke-width="0.35">M (emu / cm<tspan dy="-7" font-size="11.5">3</tspan><tspan dy="7">)</tspan></text>
<path d="M495.3 603.8L493.8 604.0L492.3 604.2L490.9 604.4L489.4 604.6L487.9 604.7L486.5 604.9L485.0 605.1L483.5 605.3L482.0 605.5L480.6 605.7L479.1 605.9L477.6 606.1L476.1 606.2L474.6 606.4L473.1 606.6L471.5 606.8L470.0 607.0L468.6 607.2L467.1 607.3L465.7 607.5L464.2 607.7L462.8 607.9L461.3 608.0L459.9 608.2L458.4 608.4L456.9 608.5L455.4 608.7L453.9 608.9L452.4 609.0L450.9 609.2L449.4 609.4L447.9 609.6L446.3 609.8L444.8 609.9L443.2 610.1L441.6 610.3L440.0 610.5L438.6 610.7L437.1 610.8L435.6 611.0L434.1 611.2L432.6 611.4L431.0 611.6L429.5 611.8L427.9 612.0L426.3 612.2L424.7 612.3L423.1 612.5L421.5 612.7L419.9 612.9L418.3 613.1L416.7 613.3L415.1 613.5L413.5 613.7L412.0 613.9L410.4 614.1L408.9 614.3L407.3 614.5L405.8 614.7L404.3 614.9L402.9 615.0L401.4 615.2L400.0 615.4L398.3 615.6L396.7 615.8L395.0 616.0L393.4 616.2L391.8 616.4L390.2 616.5L388.6 616.7L387.0 616.9L385.5 617.1L384.0 617.2L382.4 617.4L380.9 617.6L379.4 617.8L377.9 618.0L376.4 618.3L375.0 618.5L373.5 618.7L372.0 619.0L370.4 619.3L368.8 619.6L367.2 620.0L365.7 620.3L364.1 620.7L362.6 621.0L361.1 621.4L359.6 621.8L358.1 622.2L356.6 622.6L355.1 623.0L353.5 623.4L352.0 623.8L350.5 624.2L349.0 624.6L347.6 625.0L346.1 625.4L344.7 625.8L343.2 626.3L341.8 626.7L340.4 627.1L338.9 627.6L337.5 628.0L336.1 628.5L334.6 628.9L333.2 629.4L331.8 629.8L330.3 630.3L328.9 630.7L327.4 631.1L326.0 631.5L324.5 631.9L322.9 632.3L321.4 632.7L319.8 633.1L318.2 633.4L316.7 633.8L315.1 634.2L313.6 634.5L312.0 634.9L310.5 635.3L309.0 635.6L307.4 636.0L305.9 636.4L304.5 636.9L303.0 637.3L301.4 637.8L299.8 638.3L298.2 638.9L296.6 639.4L295.0 640.0L293.4 640.6L291.8 641.1L290.3 641.7L288.8 642.3L287.5 642.9L286.2 643.4L285.0 644.0L284.0 644.5L282.5 645.4L281.2 646.1L280.1 647.0L279.0 648.0L277.9 649.3L276.8 650.7L275.9 652.3L275.0 654.0L274.4 655.3L273.9 656.7L273.5 658.2L273.1 659.8L272.7 661.4L272.3 663.1L272.0 665.0L271.8 666.3L271.6 667.7L271.5 669.1L271.4 670.6L271.3 672.2L271.2 673.8L271.1 675.4L271.0 677.1L271.0 678.8L270.9 680.5L270.9 682.1L270.8 683.8L270.7 685.4L270.7 687.0L270.6 688.5L270.5 690.0L270.4 691.6L270.3 693.2L270.2 694.7L270.1 696.2L269.9 697.7L269.8 699.2L269.7 700.6L269.6 702.1L269.5 703.5L269.4 705.0L269.3 706.5L269.2 708.0L269.1 709.6L269.0 711.1L269.0 712.7L268.9 714.2L268.8 715.8L268.7 717.4L268.7 719.0L268.6 720.5L268.5 722.1L268.4 723.7L268.3 725.2L268.2 726.8L268.1 728.3L267.9 729.9L267.8 731.5L267.7 733.0L267.5 734.6L267.4 736.2L267.2 737.7L267.0 739.2L266.8 740.7L266.6 742.2L266.4 743.6L266.2 745.0L265.9 746.6L265.6 748.2L265.3 749.7L265.0 751.2L264.7 752.7L264.3 754.1L263.9 755.6L263.5 757.0L263.0 758.6L262.5 760.2L262.0 761.7L261.4 763.3L260.8 764.8L260.2 766.4L259.5 768.0L258.9 769.4L258.2 770.8L257.6 772.3L256.9 773.8L256.1 775.2L255.4 776.7L254.6 778.1L253.8 779.6L253.0 781.0L252.2 782.3L251.3 783.7L250.5 785.0L249.6 786.4L248.6 787.7L247.7 789.0L246.8 790.3L245.8 791.6L244.9 792.8L244.0 794.0L243.0 795.3L242.0 796.6L240.9 797.8L239.9 799.1L238.9 800.3L237.9 801.4L236.9 802.5L236.0 803.5L234.7 804.9L233.5 806.1L232.2 807.3L230.8 808.5L229.6 809.5L228.3 810.5L227.0 811.5L225.5 812.6L224.1 813.6L222.7 814.6L221.3 815.5L219.8 816.4L218.3 817.3L216.8 818.1L215.4 818.9L213.8 819.7L212.3 820.5L210.9 821.2L209.6 821.8L208.2 822.5L206.8 823.1L205.3 823.8L203.9 824.4L202.4 825.0L200.9 825.6L199.4 826.2L197.8 826.7L196.2 827.3L194.6 827.9L193.0 828.4L191.5 829.0L190.0 829.5L188.4 830.1L186.8 830.7L185.2 831.4L183.7 831.9L182.3 832.5L180.9 833.0L179.2 833.6L177.6 834.2L175.5 834.8L174.5 835.1L173.4 835.3L172.1 835.6L170.8 835.9L169.4 836.3L167.9 836.6L166.3 836.9L164.7 837.2L163.1 837.6L161.4 837.9L159.8 838.2L158.1 838.6L156.4 838.9L154.7 839.2L153.1 839.5L151.5 839.7L150.0 840.0L148.4 840.3L146.9 840.5L145.3 840.7L143.7 841.0L142.2 841.2L140.6 841.4L139.1 841.6L137.5 841.8L135.9 842.0L134.4 842.2L132.8 842.4L131.2 842.5L129.7 842.7L128.1 842.9L126.6 843.1L125.0 843.3L123.4 843.5L121.9 843.7L120.3 843.9L118.8 844.1L117.2 844.3L115.7 844.5L114.1 844.7L112.6 844.8L111.0 845.0L109.4 845.2L107.9 845.4L106.3 845.6L104.7 845.8L103.2 845.9L101.6 846.1L100.0 846.3L98.5 846.5L97.0 846.6L95.6 846.8L94.1 846.9L92.6 847.1L91.1 847.2L89.6 847.4L88.1 847.5L86.6 847.7L85.1 847.8L83.5 848.0L82.0 848.1L80.5 848.3L79.0 848.4L77.5 848.6L76.0 848.7L74.5 848.9L73.0 849.0" fill="none" stroke="#000" stroke-width="4.6" stroke-linejoin="round" stroke-linecap="round"/>
<path d="M73.0 849.0L74.5 848.9L76.0 848.7L77.5 848.6L79.0 848.4L80.5 848.3L82.0 848.1L83.5 848.0L85.1 847.8L86.6 847.7L88.1 847.5L89.6 847.4L91.1 847.2L92.6 847.1L94.1 846.9L95.6 846.8L97.0 846.6L98.5 846.5L100.0 846.3L101.6 846.1L103.2 845.9L104.7 845.8L106.3 845.6L107.9 845.4L109.4 845.2L111.0 845.0L112.6 844.8L114.1 844.7L115.7 844.5L117.2 844.3L118.8 844.1L120.3 843.9L121.9 843.7L123.4 843.5L125.0 843.3L126.6 843.1L128.1 842.9L129.7 842.7L131.2 842.5L132.8 842.3L134.4 842.2L135.9 842.0L137.5 841.8L139.1 841.6L140.6 841.4L142.2 841.2L143.7 840.9L145.3 840.7L146.9 840.5L148.4 840.3L150.0 840.0L151.5 839.7L153.0 839.5L154.6 839.2L156.1 838.9L157.7 838.6L159.3 838.3L160.8 837.9L162.4 837.6L164.0 837.3L165.5 837.0L167.0 836.6L168.5 836.3L170.0 836.0L171.4 835.7L172.8 835.5L174.2 835.2L175.5 835.0L177.3 834.7L178.9 834.5L180.5 834.2L182.1 834.0L183.6 833.8L185.1 833.6L186.7 833.4L188.3 833.2L190.0 833.0L191.4 832.8L192.9 832.6L194.4 832.5L195.9 832.3L197.5 832.1L199.0 831.9L200.6 831.8L202.2 831.6L203.7 831.4L205.3 831.2L206.9 831.0L208.5 830.7L210.0 830.5L211.6 830.2L213.1 830.0L214.7 829.7L216.3 829.4L217.8 829.1L219.4 828.8L221.0 828.5L222.5 828.2L224.1 827.8L225.6 827.5L227.1 827.2L228.6 826.8L230.0 826.5L231.6 826.1L233.1 825.7L234.7 825.4L236.2 825.0L237.6 824.6L239.1 824.2L240.6 823.8L242.0 823.3L243.5 822.9L245.0 822.5L246.5 822.1L248.0 821.7L249.4 821.3L250.9 820.9L252.3 820.5L253.8 820.0L255.3 819.6L256.8 819.1L258.4 818.6L260.0 818.0L261.3 817.5L262.6 817.1L264.1 816.6L265.5 816.0L267.0 815.5L268.5 814.9L270.1 814.4L271.6 813.8L273.2 813.2L274.7 812.6L276.1 811.9L277.6 811.3L279.0 810.7L280.3 810.0L281.5 809.3L282.7 808.7L283.7 808.0L285.3 806.9L286.6 805.8L287.9 804.6L289.0 803.4L290.1 802.2L291.1 800.9L292.0 799.5L292.8 798.2L293.5 797.0L294.1 795.6L294.6 794.3L295.2 792.9L295.6 791.3L296.1 789.7L296.5 788.0L296.8 786.8L297.0 785.5L297.2 784.1L297.4 782.7L297.6 781.2L297.7 779.7L297.9 778.2L298.0 776.6L298.1 775.0L298.2 773.3L298.3 771.7L298.4 770.0L298.5 768.3L298.6 766.6L298.7 765.0L298.8 763.3L298.9 761.6L299.0 760.0L299.1 758.5L299.2 757.1L299.3 755.6L299.5 754.1L299.6 752.6L299.7 751.1L299.8 749.5L299.9 748.0L300.0 746.4L300.1 744.9L300.2 743.4L300.3 741.8L300.4 740.3L300.5 738.7L300.6 737.2L300.8 735.7L300.9 734.2L301.0 732.7L301.1 731.2L301.2 729.7L301.4 728.2L301.5 726.8L301.7 725.1L301.8 723.5L302.0 721.8L302.2 720.1L302.3 718.5L302.5 716.8L302.7 715.2L302.9 713.6L303.0 712.0L303.2 710.4L303.4 708.8L303.6 707.3L303.8 705.8L304.0 704.3L304.2 702.8L304.4 701.4L304.6 700.0L304.9 698.2L305.1 696.5L305.4 694.8L305.6 693.2L305.9 691.6L306.1 690.1L306.4 688.5L306.8 687.0L307.1 685.5L307.5 684.0L307.9 682.5L308.4 681.0L308.8 679.5L309.3 678.0L309.8 676.6L310.4 675.2L311.0 673.8L311.6 672.4L312.3 671.0L313.0 669.6L313.8 668.3L314.7 666.9L315.6 665.6L316.5 664.3L317.4 663.0L318.4 661.7L319.4 660.4L320.4 659.2L321.4 658.0L322.5 656.8L323.6 655.6L324.7 654.4L325.9 653.3L327.1 652.1L328.3 651.0L329.5 649.9L330.8 648.8L331.9 647.8L333.1 646.9L334.3 645.9L335.6 644.9L336.8 644.0L338.1 643.1L339.4 642.1L340.7 641.2L342.0 640.3L343.3 639.4L344.6 638.5L345.9 637.6L347.2 636.8L348.5 635.9L349.8 635.0L351.2 634.1L352.6 633.3L353.9 632.4L355.3 631.6L356.7 630.8L358.0 630.0L359.4 629.2L360.8 628.5L362.2 627.8L363.7 627.0L365.1 626.3L366.5 625.7L367.9 625.0L369.4 624.4L370.8 623.8L372.3 623.2L373.8 622.6L375.4 622.0L377.0 621.5L378.4 621.1L379.8 620.7L381.2 620.3L382.6 619.9L384.1 619.6L385.6 619.2L387.1 618.9L388.6 618.6L390.1 618.3L391.7 618.0L393.3 617.7L394.9 617.4L396.6 617.1L398.3 616.8L400.0 616.5L401.3 616.3L402.7 616.0L404.1 615.8L405.6 615.5L407.1 615.3L408.6 615.0L410.1 614.8L411.7 614.5L413.2 614.3L414.8 614.1L416.4 613.8L418.0 613.6L419.7 613.3L421.3 613.1L422.9 612.9L424.5 612.6L426.1 612.4L427.7 612.2L429.3 611.9L430.9 611.7L432.5 611.5L434.0 611.3L435.6 611.1L437.1 610.9L438.6 610.7L440.0 610.5L441.6 610.3L443.2 610.1L444.8 609.9L446.3 609.7L447.9 609.5L449.4 609.3L450.9 609.2L452.4 609.0L453.9 608.8L455.4 608.7L456.9 608.5L458.4 608.3L459.9 608.2L461.3 608.0L462.8 607.8L464.2 607.7L465.7 607.5L467.1 607.3L468.6 607.2L470.0 607.0L471.5 606.8L473.1 606.6L474.6 606.4L476.1 606.2L477.6 606.1L479.1 605.9L480.6 605.7L482.0 605.5L483.5 605.3L485.0 605.1L486.5 604.9L487.9 604.7L489.4 604.6L490.9 604.4L492.3 604.2L493.8 604.0L495.3 603.8" fill="none" stroke="#000" stroke-width="4.6" stroke-linejoin="round" stroke-linecap="round"/>
<path d="M495.3 590.0L493.8 590.2L492.3 590.5L490.9 590.7L489.4 590.9L487.9 591.1L486.5 591.4L485.0 591.6L483.5 591.8L482.0 592.1L480.6 592.3L479.1 592.5L477.6 592.8L476.1 593.0L474.6 593.2L473.1 593.5L471.5 593.7L470.0 594.0L468.6 594.2L467.1 594.5L465.7 594.7L464.2 595.0L462.8 595.3L461.3 595.5L459.9 595.8L458.4 596.1L456.9 596.3L455.4 596.6L453.9 596.9L452.4 597.2L450.9 597.4L449.4 597.7L447.9 598.0L446.3 598.3L444.8 598.6L443.2 598.9L441.6 599.2L440.0 599.5L438.6 599.8L437.2 600.0L435.8 600.3L434.3 600.6L432.8 600.9L431.4 601.2L429.9 601.5L428.3 601.8L426.8 602.0L425.3 602.3L423.8 602.7L422.2 603.0L420.7 603.3L419.1 603.6L417.6 603.9L416.1 604.2L414.5 604.5L413.0 604.8L411.5 605.1L410.0 605.4L408.5 605.7L407.1 605.9L405.6 606.2L404.2 606.5L402.8 606.8L401.4 607.0L400.0 607.3L398.3 607.6L396.7 607.9L395.0 608.2L393.4 608.5L391.8 608.8L390.2 609.1L388.6 609.4L387.1 609.7L385.5 610.0L384.0 610.2L382.5 610.5L380.9 610.8L379.4 611.1L377.9 611.3L376.4 611.6L375.0 611.9L373.5 612.2L372.0 612.5L370.4 612.8L368.8 613.1L367.2 613.4L365.7 613.7L364.1 614.0L362.6 614.3L361.1 614.6L359.6 614.9L358.0 615.2L356.5 615.5L355.0 615.9L353.5 616.3L352.0 616.6L350.5 617.1L349.0 617.5L347.5 618.0L346.1 618.4L344.7 619.0L343.2 619.5L341.8 620.1L340.3 620.6L338.9 621.2L337.5 621.8L336.0 622.4L334.6 623.0L333.2 623.6L331.8 624.2L330.3 624.8L328.9 625.4L327.4 626.0L326.0 626.5L324.6 627.0L323.1 627.5L321.7 628.0L320.2 628.5L318.7 629.0L317.3 629.4L315.8 629.9L314.4 630.3L312.9 630.8L311.4 631.3L310.0 631.7L308.6 632.2L307.2 632.7L305.8 633.2L304.4 633.7L303.0 634.2L301.4 634.8L299.8 635.4L298.2 636.1L296.6 636.7L295.0 637.4L293.4 638.1L291.8 638.7L290.3 639.4L288.9 640.0L287.5 640.7L286.2 641.3L285.1 641.9L284.0 642.5L282.3 643.5L281.0 644.5L279.8 645.5L278.5 646.5L277.8 648.1L277.1 649.6L276.3 651.2L275.6 652.7L275.0 654.3L274.5 656.0L274.2 657.4L273.9 658.8L273.7 660.2L273.5 661.7L273.4 663.2L273.2 664.7L273.1 666.3L273.0 668.0L272.9 669.4L272.8 670.8L272.8 672.3L272.7 673.9L272.6 675.5L272.6 677.1L272.6 678.7L272.5 680.4L272.5 682.0L272.5 683.7L272.4 685.3L272.4 686.9L272.3 688.5L272.3 690.0L272.2 691.6L272.2 693.1L272.1 694.6L272.1 696.1L272.0 697.6L272.0 699.1L271.9 700.6L271.9 702.0L271.8 703.5L271.7 705.0L271.7 706.5L271.6 708.0L271.5 709.6L271.4 711.1L271.4 712.6L271.3 714.2L271.2 715.7L271.1 717.2L271.0 718.8L270.9 720.4L270.9 722.0L270.8 723.7L270.7 725.4L270.6 727.2L270.5 728.6L270.5 730.0L270.4 731.5L270.4 733.0L270.3 734.5L270.2 736.1L270.2 737.7L270.1 739.4L270.1 741.0L270.0 742.6L269.9 744.3L269.9 745.9L269.8 747.6L269.8 749.2L269.7 750.9L269.6 752.5L269.6 754.0L269.5 755.6L269.4 757.1L269.4 758.6L269.3 760.0L269.2 761.7L269.1 763.4L269.0 765.1L269.0 766.8L268.9 768.4L268.8 770.0L268.7 771.6L268.6 773.2L268.5 774.8L268.4 776.3L268.3 777.7L268.2 779.2L268.1 780.6L268.0 782.0L267.8 783.8L267.7 785.6L267.6 787.2L267.4 788.9L267.2 790.5L267.0 792.0L266.8 793.5L266.5 795.0L266.1 796.6L265.7 798.2L265.2 799.7L264.7 801.2L264.1 802.6L263.5 804.0L262.7 805.4L261.9 806.8L261.0 808.1L260.0 809.3L259.0 810.5L257.9 811.7L256.9 812.8L255.7 813.9L254.4 815.0L253.0 816.0L251.8 816.7L250.5 817.4L249.0 818.1L247.5 818.7L246.0 819.3L244.4 819.9L242.9 820.5L241.4 821.0L240.0 821.5L238.3 822.1L236.8 822.6L235.3 823.0L233.7 823.5L232.0 823.9L230.0 824.5L228.9 824.8L227.7 825.2L226.4 825.5L225.1 825.9L223.7 826.3L222.3 826.7L220.9 827.2L219.4 827.6L217.8 828.1L216.3 828.5L214.7 829.0L213.1 829.4L211.5 829.9L209.8 830.3L208.2 830.8L206.5 831.2L204.9 831.7L203.3 832.1L201.6 832.6L200.0 833.0L198.6 833.4L197.2 833.7L195.8 834.1L194.4 834.4L192.9 834.8L191.5 835.2L190.0 835.5L188.5 835.9L187.0 836.2L185.5 836.6L184.0 837.0L182.5 837.3L181.0 837.7L179.4 838.0L177.9 838.4L176.4 838.8L174.9 839.1L173.4 839.5L171.8 839.8L170.3 840.2L168.8 840.5L167.3 840.8L165.8 841.2L164.4 841.5L162.9 841.8L161.4 842.2L160.0 842.5L158.4 842.9L156.9 843.2L155.3 843.6L153.7 843.9L152.1 844.2L150.6 844.6L149.0 844.9L147.4 845.3L145.9 845.6L144.3 845.9L142.8 846.3L141.2 846.6L139.7 846.9L138.2 847.2L136.7 847.5L135.1 847.9L133.7 848.2L132.2 848.5L130.7 848.8L129.3 849.1L127.8 849.4L126.4 849.7L125.0 850.0L123.4 850.3L121.9 850.7L120.4 851.0L118.9 851.3L117.4 851.6L115.9 851.9L114.5 852.3L113.0 852.6L111.6 852.9L110.2 853.2L108.7 853.5L107.3 853.8L105.9 854.1L104.4 854.4L103.0 854.7L101.5 855.0L100.0 855.3L98.5 855.6L97.0 855.9L95.6 856.2L94.1 856.5L92.6 856.8L91.1 857.1L89.6 857.4L88.1 857.7L86.6 858.1L85.1 858.4L83.5 858.7L82.0 859.0L80.5 859.3L79.0 859.6L77.5 859.9L76.0 860.2L74.5 860.5L73.0 860.8" fill="none" stroke="#e41e24" stroke-width="4.6" stroke-linejoin="round" stroke-linecap="round"/>
<path d="M73.0 862.3L74.5 862.0L76.0 861.7L77.5 861.4L79.0 861.1L80.5 860.8L82.0 860.5L83.5 860.1L85.1 859.8L86.6 859.5L88.1 859.2L89.6 858.9L91.1 858.6L92.6 858.3L94.1 858.0L95.6 857.7L97.0 857.4L98.5 857.1L100.0 856.8L101.6 856.5L103.2 856.2L104.7 855.8L106.3 855.5L107.8 855.2L109.4 854.9L110.9 854.6L112.4 854.3L114.0 854.0L115.5 853.7L117.1 853.4L118.6 853.1L120.2 852.7L121.8 852.4L123.4 852.1L125.0 851.8L126.5 851.5L128.0 851.2L129.5 850.9L131.0 850.7L132.5 850.4L134.0 850.1L135.5 849.8L137.1 849.5L138.6 849.2L140.2 848.9L141.7 848.7L143.2 848.4L144.8 848.1L146.3 847.8L147.8 847.5L149.4 847.2L150.9 846.9L152.4 846.6L153.9 846.3L155.4 846.0L156.9 845.7L158.5 845.4L160.0 845.1L161.5 844.8L163.0 844.5L164.5 844.1L166.0 843.8L167.5 843.5L169.0 843.2L170.5 842.9L172.0 842.6L173.4 842.2L174.9 841.9L176.4 841.6L177.9 841.2L179.4 840.9L180.9 840.5L182.4 840.1L183.9 839.8L185.4 839.4L186.8 839.0L188.3 838.6L189.8 838.3L191.3 837.9L192.7 837.5L194.2 837.1L195.7 836.7L197.2 836.3L198.7 835.9L200.2 835.4L201.7 835.0L203.2 834.6L204.7 834.2L206.2 833.7L207.8 833.3L209.2 832.9L210.7 832.5L212.2 832.0L213.7 831.6L215.2 831.2L216.8 830.7L218.3 830.2L219.9 829.8L221.5 829.3L223.0 828.8L224.6 828.4L226.2 827.9L227.7 827.4L229.2 827.0L230.7 826.5L232.2 826.1L233.6 825.6L235.0 825.2L236.4 824.8L237.7 824.4L239.0 824.1L240.2 823.7L241.9 823.2L243.5 822.8L245.1 822.3L246.5 821.9L248.0 821.5L249.4 821.2L250.7 820.8L252.1 820.4L253.5 819.9L255.0 819.5L256.5 819.0L258.0 818.5L259.5 818.1L261.1 817.6L262.6 817.1L264.1 816.5L265.6 816.0L267.1 815.5L268.5 814.9L270.0 814.3L271.4 813.7L272.9 813.1L274.4 812.5L275.9 811.9L277.3 811.2L278.7 810.6L280.1 809.9L281.4 809.2L282.6 808.5L283.7 807.7L285.0 806.7L286.2 805.6L287.3 804.5L288.2 803.4L289.1 802.2L290.0 801.0L290.9 799.5L291.6 797.9L292.3 796.3L292.9 794.6L293.6 793.0L293.7 791.5L293.8 789.9L293.8 788.4L293.9 786.9L294.0 785.4L294.1 783.8L294.2 782.3L294.3 780.8L294.3 779.2L294.4 777.7L294.5 776.2L294.6 774.6L294.7 773.1L294.7 771.5L294.8 770.0L294.9 768.5L294.9 767.0L295.0 765.5L295.0 764.0L295.0 762.4L295.1 760.9L295.1 759.4L295.1 757.9L295.2 756.3L295.2 754.8L295.2 753.3L295.3 751.8L295.3 750.3L295.4 748.9L295.5 747.4L295.6 746.0L295.7 744.3L295.9 742.7L296.1 741.1L296.2 739.6L296.4 738.0L296.6 736.5L296.8 734.9L297.0 733.4L297.2 731.8L297.4 730.2L297.6 728.5L297.8 726.8L297.9 725.3L298.1 723.8L298.2 722.3L298.3 720.7L298.5 719.1L298.6 717.5L298.7 715.9L298.8 714.3L298.9 712.6L299.1 711.0L299.2 709.3L299.3 707.7L299.4 706.1L299.6 704.5L299.7 703.0L299.9 701.5L300.0 700.0L300.2 698.4L300.4 696.8L300.5 695.2L300.7 693.6L300.9 692.1L301.1 690.6L301.3 689.1L301.5 687.6L301.7 686.1L301.9 684.6L302.1 683.1L302.3 681.5L302.5 680.0L302.7 678.5L302.9 677.0L303.1 675.5L303.3 673.9L303.5 672.4L303.7 670.9L303.9 669.3L304.1 667.8L304.3 666.3L304.5 664.8L304.7 663.3L304.9 661.9L305.2 660.5L305.4 659.2L305.7 657.6L306.0 656.0L306.3 654.4L306.6 652.9L306.9 651.4L307.2 650.0L307.6 648.6L307.9 647.3L308.3 646.0L308.9 644.3L309.5 642.7L310.1 641.2L310.8 639.8L311.5 638.5L312.5 637.1L313.7 635.9L315.0 634.8L316.2 634.1L317.6 633.4L319.0 632.8L320.5 632.2L322.0 631.5L323.5 630.7L325.0 630.0L326.5 629.2L328.2 628.4L330.0 627.5L331.2 626.9L332.4 626.3L333.8 625.7L335.2 625.0L336.6 624.3L338.1 623.6L339.6 622.9L341.1 622.2L342.7 621.5L344.3 620.9L345.9 620.2L347.4 619.6L349.0 619.0L350.4 618.5L351.9 618.0L353.4 617.5L354.9 617.0L356.4 616.6L357.9 616.1L359.4 615.7L360.9 615.3L362.5 614.9L364.0 614.4L365.6 614.0L367.2 613.7L368.8 613.3L370.4 612.9L372.0 612.5L373.5 612.2L375.0 611.8L376.4 611.5L377.9 611.2L379.4 610.9L380.9 610.7L382.4 610.4L384.0 610.1L385.5 609.9L387.1 609.6L388.6 609.3L390.2 609.0L391.8 608.8L393.4 608.5L395.0 608.2L396.7 607.9L398.3 607.6L400.0 607.3L401.4 607.0L402.8 606.8L404.2 606.5L405.6 606.2L407.1 605.9L408.5 605.7L410.0 605.4L411.5 605.1L413.0 604.8L414.5 604.5L416.1 604.2L417.6 603.9L419.1 603.6L420.7 603.3L422.2 603.0L423.8 602.7L425.3 602.3L426.8 602.0L428.3 601.8L429.9 601.5L431.4 601.2L432.8 600.9L434.3 600.6L435.8 600.3L437.2 600.0L438.6 599.8L440.0 599.5L441.6 599.2L443.2 598.9L444.8 598.6L446.3 598.3L447.9 598.0L449.4 597.7L450.9 597.4L452.4 597.2L453.9 596.9L455.4 596.6L456.9 596.3L458.4 596.1L459.9 595.8L461.3 595.5L462.8 595.3L464.2 595.0L465.7 594.7L467.1 594.5L468.6 594.2L470.0 594.0L471.5 593.7L473.1 593.5L474.6 593.2L476.1 593.0L477.6 592.8L479.1 592.5L480.6 592.3L482.0 592.1L483.5 591.8L485.0 591.6L486.5 591.4L487.9 591.1L489.4 590.9L490.9 590.7L492.3 590.5L493.8 590.2L495.3 590.0" fill="none" stroke="#e41e24" stroke-width="4.6" stroke-linejoin="round" stroke-linecap="round"/>
<path d="M495.3 573.8L493.7 574.1L492.2 574.4L490.7 574.7L489.1 575.0L487.6 575.2L486.0 575.5L484.5 575.8L482.9 576.1L481.4 576.4L479.8 576.7L478.2 577.1L476.6 577.4L475.0 577.8L473.6 578.1L472.2 578.5L470.7 578.9L469.3 579.3L467.8 579.7L466.3 580.1L464.9 580.5L463.4 581.0L461.9 581.4L460.4 581.9L458.9 582.3L457.4 582.8L455.9 583.2L454.4 583.7L453.0 584.1L451.5 584.6L450.0 585.0L448.5 585.4L447.1 585.9L445.6 586.3L444.1 586.8L442.6 587.2L441.2 587.6L439.7 588.1L438.2 588.5L436.8 589.0L435.3 589.4L433.8 589.9L432.4 590.3L430.9 590.8L429.4 591.2L427.9 591.6L426.5 592.1L425.0 592.5L423.5 592.9L422.1 593.3L420.6 593.8L419.1 594.2L417.7 594.6L416.2 595.0L414.8 595.4L413.3 595.8L411.9 596.2L410.4 596.6L408.9 597.0L407.4 597.4L406.0 597.8L404.5 598.2L403.0 598.7L401.5 599.1L400.0 599.5L398.6 599.9L397.1 600.3L395.7 600.7L394.2 601.1L392.7 601.5L391.3 601.9L389.8 602.3L388.3 602.7L386.8 603.1L385.3 603.5L383.8 603.9L382.4 604.3L380.9 604.7L379.4 605.2L378.0 605.6L376.5 606.0L375.1 606.4L373.7 606.9L372.3 607.3L370.8 607.8L369.3 608.3L367.8 608.8L366.4 609.2L364.9 609.7L363.5 610.2L362.0 610.7L360.6 611.2L359.2 611.7L357.7 612.2L356.3 612.8L354.9 613.3L353.5 613.8L352.1 614.3L350.6 614.9L349.2 615.4L347.8 615.9L346.3 616.5L344.9 617.1L343.4 617.6L342.0 618.2L340.6 618.8L339.1 619.4L337.7 619.9L336.3 620.5L334.8 621.1L333.4 621.7L332.0 622.3L330.5 622.9L329.1 623.4L327.6 624.0L326.2 624.6L324.7 625.2L323.3 625.7L321.8 626.3L320.3 626.9L318.9 627.4L317.4 628.0L315.9 628.5L314.4 629.1L313.0 629.6L311.5 630.2L310.0 630.8L308.6 631.4L307.2 631.9L305.8 632.6L304.4 633.2L303.0 633.8L301.5 634.5L300.1 635.2L298.6 635.9L297.1 636.6L295.7 637.3L294.3 638.1L292.8 638.8L291.4 639.6L290.1 640.3L288.8 641.1L287.5 641.9L286.3 642.6L285.1 643.4L284.0 644.2L282.7 645.3L281.5 646.3L280.4 647.4L279.3 648.4L278.3 649.5L277.3 650.7L276.2 651.8L275.0 653.0L274.0 654.0L272.9 655.0L271.8 656.0L270.7 657.0L269.6 658.1L268.4 659.2L267.3 660.3L266.1 661.4L265.0 662.5L263.8 663.6L262.6 664.8L261.5 666.0L260.5 667.1L259.4 668.3L258.4 669.5L257.3 670.7L256.3 672.0L255.2 673.2L254.2 674.5L253.1 675.8L252.1 677.1L251.0 678.3L250.0 679.5L249.0 680.7L248.0 681.9L247.0 683.0L246.0 684.0L244.8 685.3L243.6 686.5L242.4 687.7L241.2 688.8L240.1 689.9L238.9 690.9L237.8 691.9L236.6 692.9L235.4 693.8L234.1 694.7L232.8 695.5L231.5 696.3L230.2 697.1L228.9 697.8L227.6 698.5L226.3 699.2L225.0 700.0L224.2 701.3L223.5 702.7L222.7 704.0L221.9 705.3L221.1 706.7L220.4 708.0L219.7 709.2L219.0 710.5L218.2 712.1L217.5 713.7L216.8 715.3L216.1 716.9L215.4 718.5L214.8 719.8L214.2 721.2L213.5 722.5L212.9 723.9L212.2 725.3L211.5 726.9L210.8 728.5L210.3 729.7L209.7 730.9L209.1 732.3L208.5 733.6L207.9 735.0L207.2 736.5L206.6 737.9L205.9 739.4L205.3 740.9L204.6 742.5L204.0 744.0L203.3 745.5L202.7 747.0L202.1 748.5L201.5 750.0L201.0 751.4L200.4 752.8L199.9 754.3L199.4 755.8L198.9 757.2L198.4 758.7L197.9 760.2L197.4 761.7L196.9 763.1L196.5 764.6L196.0 766.1L195.5 767.5L195.0 768.9L194.5 770.3L194.0 771.7L193.5 773.0L192.9 774.5L192.3 776.0L191.7 777.5L191.1 778.9L190.5 780.4L189.9 781.8L189.3 783.2L188.7 784.6L188.1 785.9L187.5 787.3L186.9 788.7L186.3 790.0L185.6 791.5L185.0 792.9L184.3 794.3L183.6 795.7L182.9 797.1L182.2 798.5L181.6 799.9L180.9 801.3L180.2 802.6L179.5 804.0L178.8 805.5L178.0 807.0L177.3 808.4L176.6 809.9L175.9 811.4L175.2 812.8L174.4 814.3L173.6 815.6L172.8 817.0L171.9 818.4L170.9 819.8L170.0 821.1L169.0 822.4L168.0 823.7L167.0 825.0L166.0 826.3L165.0 827.5L164.0 828.7L163.1 829.9L162.1 831.0L161.1 832.2L160.2 833.3L159.1 834.5L158.0 835.8L157.1 836.8L156.2 837.9L155.2 839.1L154.2 840.3L153.2 841.5L152.1 842.7L151.1 843.9L150.0 845.1L148.9 846.2L147.9 847.3L146.8 848.4L145.8 849.3L144.6 850.4L143.3 851.3L142.1 852.3L140.9 853.1L139.7 854.0L138.4 854.8L137.2 855.5L136.0 856.3L134.5 857.2L133.1 858.1L131.7 858.9L130.2 859.7L128.7 860.4L127.0 861.2L125.7 861.8L124.2 862.3L122.7 862.9L121.1 863.5L119.4 864.0L117.8 864.6L116.1 865.1L114.5 865.6L112.9 866.1L111.4 866.6L110.0 867.0L108.2 867.5L106.7 867.9L105.1 868.3L103.6 868.7L101.9 869.1L100.0 869.6L98.8 869.9L97.6 870.3L96.3 870.7L94.9 871.1L93.4 871.5L92.0 872.0L90.4 872.4L88.9 872.9L87.3 873.4L85.7 873.9L84.1 874.4L82.5 874.9L80.9 875.4L79.3 875.9L77.7 876.4L76.1 876.9L74.5 877.3L73.0 877.8" fill="none" stroke="#31409f" stroke-width="4.6" stroke-linejoin="round" stroke-linecap="round"/>
<path d="M73.0 879.3L74.5 878.9L76.1 878.4L77.7 878.0L79.3 877.6L80.9 877.1L82.5 876.6L84.1 876.2L85.7 875.7L87.3 875.3L88.9 874.8L90.5 874.4L92.0 874.0L93.4 873.6L94.9 873.2L96.3 872.8L97.6 872.4L98.8 872.1L100.0 871.8L101.9 871.3L103.6 870.9L105.1 870.5L106.7 870.2L108.2 869.8L110.0 869.3L111.4 868.9L112.8 868.5L114.2 868.0L115.7 867.5L117.2 867.0L118.8 866.5L120.3 866.0L122.0 865.5L123.6 864.9L125.3 864.4L127.0 863.8L128.3 863.4L129.7 862.9L131.1 862.4L132.6 862.0L134.0 861.5L135.5 861.0L137.0 860.5L138.5 860.0L140.1 859.5L141.6 859.0L143.1 858.5L144.7 858.0L146.2 857.5L147.8 857.0L149.3 856.5L150.9 856.0L152.4 855.5L153.9 855.0L155.4 854.5L156.9 854.1L158.4 853.6L159.9 853.2L161.4 852.7L162.9 852.3L164.4 851.8L165.9 851.4L167.4 850.9L168.9 850.5L170.4 850.0L171.9 849.6L173.4 849.1L174.9 848.7L176.4 848.2L177.9 847.8L179.4 847.3L180.9 846.8L182.4 846.3L183.9 845.8L185.4 845.3L186.8 844.8L188.3 844.3L189.8 843.8L191.3 843.3L192.7 842.8L194.2 842.3L195.7 841.7L197.2 841.2L198.6 840.7L200.1 840.2L201.6 839.7L203.2 839.1L204.7 838.6L206.2 838.1L207.8 837.6L209.2 837.1L210.7 836.7L212.1 836.2L213.6 835.8L215.1 835.3L216.6 834.9L218.2 834.5L219.7 834.0L221.2 833.6L222.8 833.1L224.3 832.7L225.9 832.2L227.4 831.8L228.9 831.3L230.4 830.9L231.9 830.4L233.3 830.0L234.8 829.5L236.2 829.1L237.6 828.6L238.9 828.2L240.2 827.7L241.8 827.1L243.3 826.6L244.8 826.0L246.2 825.4L247.6 824.9L249.0 824.3L250.3 823.8L251.7 823.2L253.0 822.6L254.4 822.0L255.8 821.4L257.1 820.8L258.6 820.2L260.0 819.5L261.4 818.9L262.8 818.3L264.2 817.6L265.7 817.0L267.2 816.3L268.8 815.6L270.3 814.9L271.8 814.2L273.3 813.5L274.8 812.8L276.2 812.1L277.6 811.4L279.0 810.7L280.3 809.9L281.5 809.2L282.6 808.4L283.7 807.7L285.1 806.6L286.3 805.5L287.3 804.4L288.3 803.3L289.3 802.2L290.2 801.0L291.2 799.8L292.3 798.5L293.2 797.5L294.1 796.4L294.9 795.2L295.8 794.0L296.7 792.8L297.6 791.6L298.6 790.4L299.5 789.1L300.5 787.9L301.5 786.6L302.5 785.4L303.5 784.2L304.6 783.0L305.6 781.9L306.7 780.9L307.7 779.8L308.8 778.8L310.0 777.7L311.1 776.7L312.3 775.7L313.5 774.6L314.7 773.6L315.9 772.6L317.1 771.5L318.3 770.5L319.5 769.5L320.6 768.5L321.8 767.5L323.0 766.5L324.2 765.5L325.5 764.4L326.8 763.4L328.2 762.3L329.5 761.3L330.9 760.2L332.2 759.2L333.5 758.2L334.8 757.1L336.1 756.2L337.3 755.2L338.4 754.2L339.5 753.3L340.6 752.4L341.5 751.5L342.9 750.2L344.1 748.9L345.2 747.8L346.2 746.6L347.1 745.3L348.0 744.0L348.8 742.7L349.4 741.3L350.1 739.9L350.6 738.4L351.2 736.9L351.7 735.5L352.3 734.0L352.9 732.5L353.4 731.0L353.9 729.5L354.4 728.0L354.9 726.5L355.5 725.0L356.0 723.5L356.5 722.0L357.1 720.4L357.6 718.9L358.1 717.4L358.7 715.8L359.3 714.1L360.0 712.3L360.5 711.0L361.0 709.7L361.5 708.3L362.1 706.9L362.6 705.4L363.2 703.9L363.8 702.4L364.4 700.9L365.0 699.3L365.6 697.8L366.3 696.2L366.9 694.6L367.5 693.1L368.2 691.5L368.8 690.0L369.4 688.6L370.0 687.2L370.5 685.7L371.1 684.3L371.7 682.8L372.3 681.4L372.9 679.9L373.5 678.4L374.1 677.0L374.8 675.5L375.4 674.1L376.0 672.7L376.6 671.3L377.3 670.0L377.9 668.7L378.6 667.4L379.2 666.2L380.0 664.8L380.9 663.4L381.7 662.1L382.6 660.9L383.5 659.7L384.4 658.5L385.3 657.3L386.1 656.1L387.0 654.9L387.7 653.6L388.5 652.3L389.2 650.9L389.9 649.4L390.6 647.9L391.2 646.3L391.8 644.7L392.4 643.1L393.0 641.6L393.6 640.1L394.2 638.7L394.8 637.4L395.4 636.2L396.3 634.6L397.2 633.2L398.1 631.9L399.0 630.6L400.0 629.2L400.9 628.1L401.8 626.9L402.7 625.6L403.7 624.4L404.7 623.2L405.7 622.0L406.7 620.8L407.7 619.6L408.7 618.4L409.8 617.2L410.8 616.0L411.9 614.9L412.9 613.8L414.0 612.6L415.0 611.5L416.1 610.3L417.2 609.0L418.3 607.8L419.3 606.6L420.4 605.4L421.5 604.2L422.7 605.3L423.9 606.4L425.1 607.6L426.3 608.7L427.5 609.8L428.0 608.3L428.6 606.8L429.1 605.4L429.6 603.9L430.2 602.4L430.7 600.9L431.2 599.5L431.8 598.0L432.3 596.5L433.8 595.8L435.3 595.1L436.8 594.3L438.5 593.5L439.8 592.9L441.1 592.2L442.5 591.4L444.0 590.6L445.5 589.9L447.0 589.1L448.5 588.3L450.0 587.5L451.4 586.8L452.8 586.0L454.3 585.2L455.7 584.5L457.2 583.7L458.6 583.0L460.1 582.3L461.6 581.6L463.0 581.0L464.5 580.4L465.9 579.9L467.4 579.5L468.8 579.1L470.3 578.7L471.8 578.3L473.3 577.9L475.0 577.5L476.4 577.2L477.8 576.9L479.3 576.6L480.8 576.3L482.4 576.0L484.0 575.7L485.6 575.5L487.2 575.2L488.9 574.9L490.5 574.6L492.1 574.4L493.7 574.1L495.3 573.8" fill="none" stroke="#31409f" stroke-width="4.6" stroke-linejoin="round" stroke-linecap="round"/>
<rect x="72.5" y="556.9" width="422.8" height="339.9" fill="none" stroke="#222" stroke-width="1.1"/>
<rect x="80.8" y="568.2" width="182.4" height="88.3" fill="#fff" stroke="#8a8a8a" stroke-width="1"/>
<text x="84.5" y="586.3" font-size="17.7" fill="#111" stroke="#111" stroke-width="0.35">OOP 10 K</text>
<line x1="83.6" y1="601.8" x2="122" y2="601.8" stroke="#000" stroke-width="4.4" stroke-linecap="round"/>
<text x="128.7" y="608" font-size="17.7" fill="#111" stroke="#111" stroke-width="0.35">trilayer</text>
<line x1="83.6" y1="623" x2="122" y2="623" stroke="#e41e24" stroke-width="4.4" stroke-linecap="round"/>
<text x="128.7" y="629.2" font-size="17.7" fill="#111" stroke="#111" stroke-width="0.35">30 nm reference</text>
<line x1="83.6" y1="644.3" x2="122" y2="644.3" stroke="#31409f" stroke-width="4.4" stroke-linecap="round"/>
<text x="128.7" y="650.5" font-size="17.7" fill="#111" stroke="#111" stroke-width="0.35">10 nm reference</text>
</svg>
</body></html>
